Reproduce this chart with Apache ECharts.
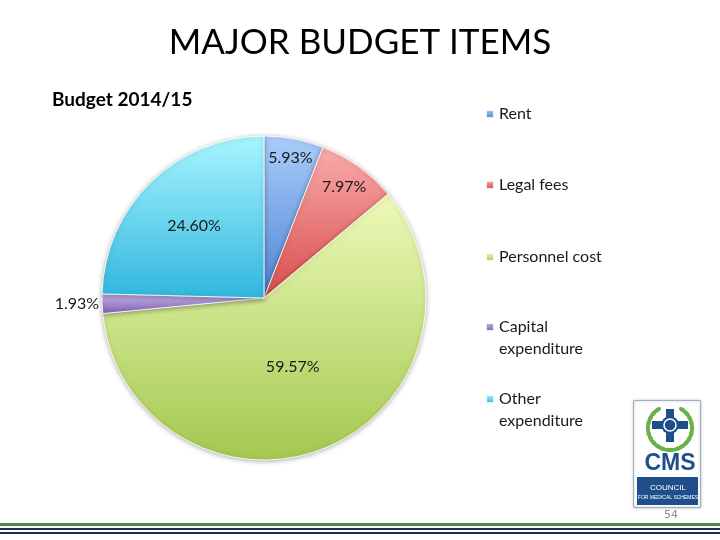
<!DOCTYPE html>
<html><head><meta charset="utf-8">
<script src="https://cdn.jsdelivr.net/npm/echarts@6/dist/echarts.min.js"></script>
<style>html,body{margin:0;padding:0;background:#fff}#c{width:720px;height:540px}</style>
</head><body><div id="c"></div>
<script>
// ---- data ----
const categories = ['Rent', 'Legal fees', 'Personnel cost', 'Capital\nexpenditure', 'Other\nexpenditure'];
const values = [5.93, 7.97, 59.57, 1.93, 24.60];
const slideTitle = 'MAJOR BUDGET ITEMS';
const chartTitle = 'Budget 2014/15';
const pageNumber = '54';

// ---- style ----
const gradTop = ['#abcefa', '#f9abab', '#eefab9', '#cbb8ee', '#a8f6ff'];
const gradBottom = ['#4c82d4', '#d84c4c', '#a3c850', '#7c5db3', '#31b6dd'];
const labelRadiusFactor = [0.86, 0.83, 0.44, null, 0.6];
const outsideLabel = [false, false, false, true, false];
const legendIconY = [114, 185, 257, 327, 399];
const R = 162;
const FONT = 'Lato';

const total = values.reduce((a, b) => a + b, 0);
const chart = echarts.init(document.getElementById('c'), null, {renderer: 'canvas'});

const pieData = categories.map((n, i) => ({
  name: n,
  value: values[i],
  itemStyle: {
    color: new echarts.graphic.LinearGradient(0, 0, 0, 1, [
      {offset: 0, color: gradTop[i]}, {offset: 1, color: gradBottom[i]}
    ])
  },
  label: outsideLabel[i] ? {position: 'outside', distanceToLabelLine: 3} : {position: 'inside'},
  labelLine: {show: false, length: 0, length2: 0}
}));

const legends = categories.map((name, i) => {
  const two = name.indexOf('\n') >= 0;
  return {
    data: [name], orient: 'vertical', left: 485, top: legendIconY[i] - (two ? 33 : 11),
    itemWidth: 8, itemHeight: 8, itemGap: 0, padding: 0, icon: 'rect', selectedMode: false,
    formatter: n => (two ? '\n' + n : n),
    textStyle: {fontFamily: FONT, fontSize: 16, color: '#1a1a1a', lineHeight: 22}
  };
});

// logo decorations
const logo = [];
logo.push({type: 'rect', shape: {x: 633.5, y: 400.5, width: 67, height: 107},
  style: {fill: '#fff', stroke: '#9fb0c8', lineWidth: 1, shadowBlur: 3, shadowColor: 'rgba(0,0,0,0.25)'}});
const lcx = 670, lcy = 428, lr = 22;
for (let a = 95; a <= 235; a += 14) {
  const t = a * Math.PI / 180;
  logo.push({type: 'ellipse', x: lcx + lr * Math.cos(t), y: lcy + lr * Math.sin(t), rotation: -t,
    shape: {cx: 0, cy: 0, rx: 2.2, ry: 4.2}, style: {fill: '#69b24a'}});
}
for (let a = 85; a >= -55; a -= 14) {
  const t = a * Math.PI / 180;
  logo.push({type: 'ellipse', x: lcx + lr * Math.cos(t), y: lcy + lr * Math.sin(t), rotation: -t,
    shape: {cx: 0, cy: 0, rx: 2.2, ry: 4.2}, style: {fill: '#69b24a'}});
}
logo.push({type: 'rect', shape: {x: 666, y: 409, width: 8, height: 33}, style: {fill: '#1f4f8a'}});
logo.push({type: 'rect', shape: {x: 652, y: 421, width: 36, height: 8}, style: {fill: '#1f4f8a'}});
logo.push({type: 'circle', shape: {cx: 670, cy: 425, r: 9}, style: {fill: '#1f4f8a'}});
logo.push({type: 'circle', shape: {cx: 670, cy: 425, r: 6}, style: {fill: 'none', stroke: '#fff', lineWidth: 1.5}});
logo.push({type: 'text', x: 670, y: 464, style: {text: 'CMS', fill: '#1f4f8a', font: 'bold 23px "Liberation Sans"', align: 'center', verticalAlign: 'middle'}});
logo.push({type: 'rect', shape: {x: 637, y: 477, width: 61, height: 28}, style: {fill: '#1f4f8a'}});
logo.push({type: 'text', x: 668, y: 488, style: {text: 'COUNCIL', fill: '#fff', font: '8px "Liberation Sans"', align: 'center', verticalAlign: 'middle'}});
logo.push({type: 'text', x: 668, y: 498, style: {text: 'FOR MEDICAL SCHEMES', fill: '#fff', font: '5px "Liberation Sans"', align: 'center', verticalAlign: 'middle'}});
logo.push({type: 'text', x: 671, y: 515, style: {text: pageNumber, fill: '#8a8a8a', font: '11px "DejaVu Sans"', align: 'center', verticalAlign: 'middle'}});
// bottom stripes
logo.push({type: 'rect', shape: {x: 0, y: 523, width: 720, height: 3}, style: {fill: '#4a8a42'}});
logo.push({type: 'rect', shape: {x: 0, y: 528, width: 720, height: 2}, style: {fill: '#1c2f55'}});
logo.push({type: 'rect', shape: {x: 0, y: 532, width: 720, height: 2}, style: {fill: '#1c2f55'}});

chart.setOption({
  animation: false,
  backgroundColor: '#fff',
  title: [
    {text: slideTitle, left: 'center', top: 23, padding: 0,
      textStyle: {fontFamily: FONT, fontSize: 35, fontWeight: 'normal', color: '#000', lineHeight: 40}},
    {text: chartTitle, left: 52, top: 88, padding: 0,
      textStyle: {fontFamily: FONT, fontSize: 19, fontWeight: 'bold', color: '#000', lineHeight: 24}}
  ],
  legend: legends,
  graphic: logo,
  series: [{
    type: 'pie', center: [264, 298], radius: R, startAngle: 90, clockwise: true,
    data: pieData,
    emphasis: {disabled: true},
    itemStyle: {borderColor: 'rgba(255,255,255,0.85)', borderWidth: 1,
      shadowBlur: 5, shadowColor: 'rgba(0,0,0,0.3)', shadowOffsetY: 1},
    label: {formatter: p => p.value.toFixed(2) + '%', fontFamily: FONT, fontSize: 16, color: '#1a1a1a'},
    labelLayout: function (p) {
      const i = p.dataIndex;
      const k = labelRadiusFactor[i];
      if (k == null) return {};
      let cum = 0;
      for (let j = 0; j < i; j++) cum += values[j];
      const ang = (90 - 360 * (cum + values[i] / 2) / total) * Math.PI / 180;
      const d = (k - 0.5) * R;
      return {dx: d * Math.cos(ang), dy: -d * Math.sin(ang)};
    }
  }]
});
</script></body></html>
